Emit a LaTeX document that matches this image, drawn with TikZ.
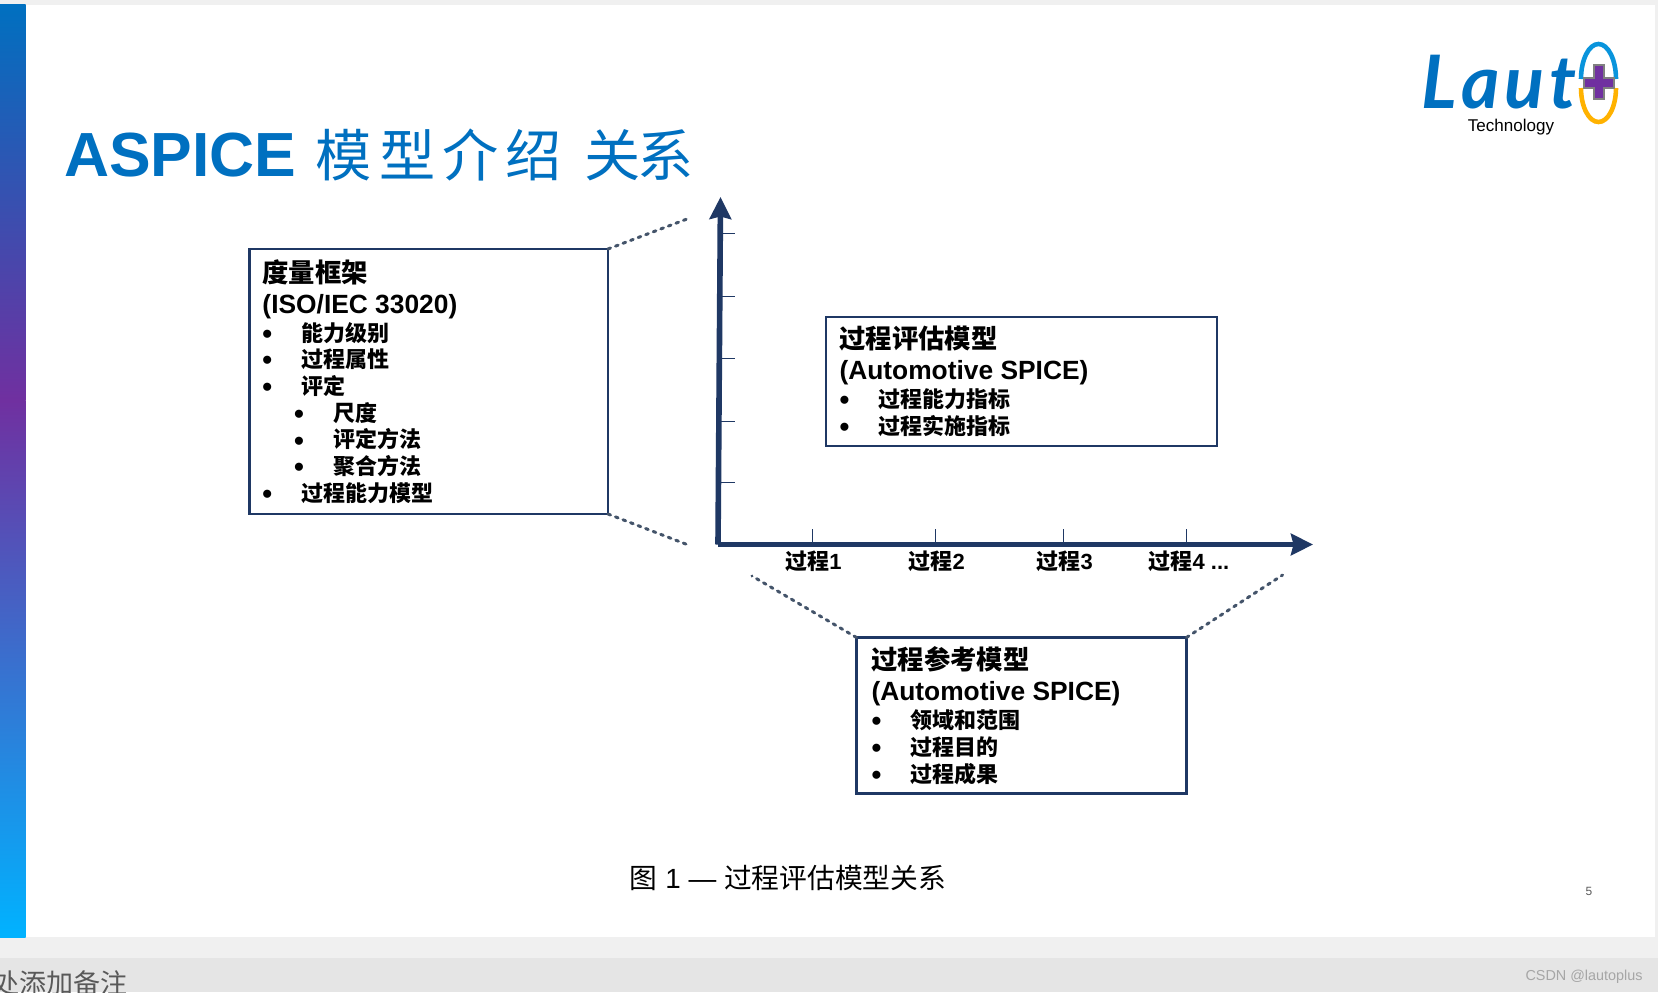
\documentclass[tikz,border=0pt]{standalone}
\usepackage{fontspec}
\setmainfont{Liberation Sans}
\newfontfamily\cjk{Noto Sans CJK SC}
\newfontfamily\titlecjk[LetterSpace=12.5]{Noto Sans CJK SC}
\newfontfamily\logofont[LetterSpace=7]{Lato}
\usetikzlibrary{arrows.meta,positioning}
\definecolor{navy}{HTML}{1F3864}
\definecolor{dotcol}{HTML}{44546A}
\definecolor{titleblue}{HTML}{0070C0}
\definecolor{logopurple}{HTML}{7030A0}
\newcommand{\headline}[1]{{\fontsize{15}{17}\selectfont #1}}
\newcommand{\bulletmark}{\raisebox{-1.2pt}{\fontsize{16}{15}\selectfont\textbullet}}
\newcommand{\itemone}[1]{\makebox[22.4pt][l]{\bulletmark}{\cjk #1}}
\newcommand{\itemtwo}[1]{\hspace{18pt}\makebox[22.4pt][l]{\bulletmark}{\cjk #1}}
\tikzset{
    modelbox/.style={draw=navy,line width=1.3pt,outer sep=0pt,fill=white,anchor=north west,inner xsep=0.26cm,
        inner ysep=0pt,align=left,font=\bfseries\fontsize{12.5}{15.2}\selectfont},
    dotline/.style={draw=dotcol,line width=1.7pt,line cap=round,dash pattern=on 1.6pt off 3pt},
    axisline/.style={draw=navy,line width=3.2pt,-{Stealth[length=4.4mm,width=4.3mm,inset=0.5mm]}},
    axistick/.style={draw=navy,line width=0.5pt},
    proclabel/.style={font=\bfseries\fontsize{12.5}{15}\selectfont,inner sep=0pt}
}
\begin{document}
\begin{tikzpicture}[x=0.02cm,y=-0.02cm]
	\useasboundingbox (0,0) rectangle (1658,992);
	\clip (0,0) rectangle (1658,992);
	\fill[color=black!6] (0,0) rectangle (1658,992);
	\fill[color=black!10] (0,958) rectangle (1658,992);
	\fill[color=white] (25,4.5) rectangle (1655,937);
	\shade[top color=titleblue,bottom color=logopurple] (0,4.5) rectangle (25.5,400);
	\shade[top color=logopurple,bottom color=cyan!70!blue] (0,400) rectangle (25.5,937);

	\node[anchor=base west,text=titleblue,inner sep=0pt,font=\bfseries\fontsize{35.5}{36}\selectfont] (title) at (64,176)
	    {ASPICE\hspace{11pt}{\titlecjk\mdseries\fontsize{32}{36}\selectfont 模型介绍\hspace{13pt}关\hspace{-2pt}系}};

	\node[modelbox,text width=6.65cm,minimum height=5.3cm] (framebox) at (249.5,249) {\headline{\cjk 度量框架}\\[2.4pt]
	    \headline{(ISO/IEC 33020)}\\[0.8pt]
	    \itemone{能力级别}\\
	    \itemone{过程属性}\\
	    \itemone{评定}\\
	    \itemtwo{尺度}\\
	    \itemtwo{评定方法}\\
	    \itemtwo{聚合方法}\\
	    \itemone{过程能力模型}\par\vspace*{1.4pt}};

	\node[modelbox,text width=7.28cm,inner xsep=0.27cm,minimum height=2.58cm] (assessbox) at (826,317) {\headline{\cjk 过程评估模型}\\[2.4pt]
	    \headline{(Automotive SPICE)}\\[0.8pt]
	    \itemone{过程能力指标}\\
	    \itemone{过程实施指标}\par\vspace*{1.4pt}};

	\node[modelbox,text width=6.0cm,inner xsep=0.3cm,minimum height=3.12cm] (refbox) at (856.5,637.5) {\headline{\cjk 过程参考模型}\\[2.4pt]
	    \headline{(Automotive SPICE)}\\[0.8pt]
	    \itemone{领域和范围}\\
	    \itemone{过程目的}\\
	    \itemone{过程成果}\par\vspace*{0.6pt}};

	\coordinate (origin) at (720.5,544.5);
	\coordinate (ytip) at (720.5,197);
	\coordinate (xtip) at (1313,544.5);
	\draw[axisline] (718,544.5) -- (ytip);
	\draw[axisline] (718,544.5) -- (xtip);
	\foreach \y in {233.7,296,358.5,421,482}
	    \draw[axistick] (720.5,\y) -- (735,\y);
	\foreach \x/\t in {812.6/1,935.8/2,1063.7/3}{
	    \draw[axistick] (\x,543) -- (\x,528.7);
	    \node[proclabel] (proc\t) at (\x+1,561) {{\cjk 过程}\t};
	}
	\draw[axistick] (1186.4,543) -- (1186.4,528.7);
	\node[proclabel] (proc4) at (1189,561) {{\cjk 过程}4 ...};

	\coordinate (frametop) at (687,219);
	\coordinate (framebot) at (687,544.5);
	\coordinate (refleft) at (752,576);
	\coordinate (refright) at (1282.6,575);
	\draw[dotline] (framebox.north east) -- (frametop);
	\draw[dotline] (framebox.south east) -- (framebot);
	\draw[dotline] (refbox.north west) -- (refleft);
	\draw[dotline] (refbox.north east) -- (refright);

	\node[inner sep=0pt,font=\fontsize{15.8}{18}\selectfont] (caption) at (788,877.5) {{\cjk 图} 1 — {\cjk 过程评估模型关系}};
	\node[inner sep=0pt,text=black!65,font=\fontsize{6.8}{8}\selectfont] (pagenum) at (1589,891) {5};

	\node[anchor=base west,inner sep=0pt,text=titleblue,font=\logofont\bfseries\itshape\fontsize{42}{42}\selectfont] (logo) at (1421,108) {Laut};
	\node[inner sep=0pt,font=\fontsize{9.7}{11}\selectfont] (logotext) at (1511,127.5) {Technology};
	\draw[color=cyan!80!blue,line width=2.6pt] (1581,79) arc[start angle=180,end angle=360,x radius=17.5,y radius=35];
	\draw[color=orange!60!yellow,line width=2.6pt] (1581,88) arc[start angle=180,end angle=0,x radius=17.5,y radius=34];
	\draw[fill=logopurple,draw=gray,line width=0.8pt] (1594,65) -- (1604,65) -- (1604,78) -- (1614,78) -- (1614,88) -- (1604,88)
	    -- (1604,99) -- (1594,99) -- (1594,88) -- (1584,88) -- (1584,78) -- (1594,78) -- cycle;

	\node[anchor=west,inner sep=0pt,text=black!65,font=\cjk\fontsize{15.4}{18}\selectfont] (notes) at (-8,983) {处添加备注};
	\node[anchor=east,inner sep=0pt,text=black!35,font=\fontsize{8.2}{10}\selectfont] (csdn) at (1643,977) {CSDN @lautoplus};
\end{tikzpicture}
\end{document}
